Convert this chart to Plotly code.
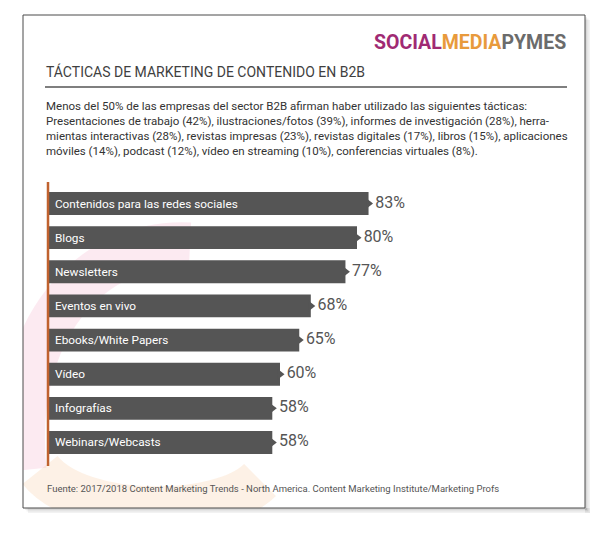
import plotly.graph_objects as go

categories = ["Contenidos para las redes sociales", "Blogs", "Newsletters", "Eventos en vivo",
              "Ebooks/White Papers", "Vídeo", "Infografías", "Webinars/Webcasts"]
values = [83, 80, 77, 68, 65, 60, 58, 58]
value_labels = ["83%", "80%", "77%", "68%", "65%", "60%", "58%", "58%"]

W, H = 610, 542
def px(x):
    return x / W
def py(y):
    return 1 - y / H

COND = "Roboto, Liberation Sans, sans-serif"
BAR = "#555555"

fig = go.Figure()
fig.add_trace(go.Bar(
    y=categories, x=values, orientation="h",
    marker=dict(color=BAR, line=dict(width=0)),
    text=categories, texttemplate="\u00a0%{text}", textposition="inside", insidetextanchor="start",
    textfont=dict(color="white", size=11.8, family=COND),
    hoverinfo="skip", cliponaxis=False,
))
fig.add_trace(go.Scatter(
    y=categories, x=values, mode="markers+text",
    marker=dict(symbol="triangle-right", size=9, color=BAR),
    text=value_labels, textposition="middle right",
    textfont=dict(color="#555555", size=16, family=COND),
    hoverinfo="skip", cliponaxis=False,
))

shapes = []
# soft shadow
for i, a in enumerate([0.05, 0.05, 0.06]):
    d = 5 - i * 1.5
    shapes.append(dict(type="rect", xref="paper", yref="paper", x0=px(23 + d), x1=px(585 + d), y0=py(508 + d), y1=py(15 + d),
                       fillcolor=f"rgba(0,0,0,{a})", line=dict(width=0), layer="below"))
# card
shapes.append(dict(type="rect", xref="paper", yref="paper", x0=px(23), x1=px(585), y0=py(508), y1=py(15),
                   fillcolor="white", line=dict(width=0), layer="below"))
# decorative ring (left/top pinkish, bottom peach)
shapes.append(dict(type="path", xref="paper", yref="paper", layer="below",
                   path=f"M {px(24)},{py(470)} C {px(10)},{py(330)} {px(90)},{py(240)} {px(190)},{py(245)}",
                   line=dict(color="rgba(238,150,185,0.20)", width=45)))
shapes.append(dict(type="path", xref="paper", yref="paper", layer="below",
                   path=f"M {px(40)},{py(470)} C {px(80)},{py(520)} {px(220)},{py(520)} {px(260)},{py(480)}",
                   line=dict(color="rgba(245,190,140,0.22)", width=45)))
# cover outside the card
shapes.append(dict(type="rect", xref="paper", yref="paper", x0=0, x1=px(23), y0=0, y1=1,
                   fillcolor="white", line=dict(width=0), layer="below"))
shapes.append(dict(type="rect", xref="paper", yref="paper", x0=px(23), x1=px(585), y0=py(542), y1=py(508),
                   fillcolor="white", line=dict(width=0), layer="below"))
for i, a in enumerate([0.05, 0.05, 0.06]):
    d = 5 - i * 1.5
    shapes.append(dict(type="rect", xref="paper", yref="paper", x0=px(23 + d), x1=px(585 + d), y0=py(508 + d), y1=py(508),
                       fillcolor=f"rgba(0,0,0,{a})", line=dict(width=0), layer="below"))
shapes.append(dict(type="rect", xref="paper", yref="paper", x0=px(23), x1=px(585), y0=py(508), y1=py(15),
                   fillcolor="rgba(0,0,0,0)", line=dict(color="#4a4a4a", width=1), layer="below"))
# title underline
shapes.append(dict(type="line", xref="paper", yref="paper", x0=px(45), x1=px(567), y0=py(87), y1=py(87),
                   line=dict(color="#555555", width=1.5)))
# orange vertical axis line
shapes.append(dict(type="line", xref="paper", yref="paper", x0=px(48), x1=px(48), y0=py(182), y1=py(466),
                   line=dict(color="#c0622f", width=2.5)))

annotations = [
    dict(text="<b><span style='color:#a02a73'>SOCIAL</span><span style='color:#e89a3c'>MEDIA</span>"
              "<span style='color:#6b6b6b'>PYMES</span></b>",
         x=px(568), y=py(42), xref="paper", yref="paper", xanchor="right", yanchor="middle",
         showarrow=False, font=dict(size=19.5, family=COND)),
    dict(text="TÁCTICAS DE MARKETING DE CONTENIDO EN B2B",
         x=px(44), y=py(71), xref="paper", yref="paper", xanchor="left", yanchor="middle",
         showarrow=False, font=dict(size=14, color="#3f3f3f", family=COND)),
    dict(text="Menos del 50% de las empresas del sector B2B afirman haber utilizado las siguientes tácticas:<br>"
              "Presentaciones de trabajo (42%), ilustraciones/fotos (39%), informes de investigación (28%), herra-<br>"
              "mientas interactivas (28%), revistas impresas (23%), revistas digitales (17%), libros (15%), aplicaciones<br>"
              "móviles (14%), podcast (12%), vídeo en streaming (10%), conferencias virtuales (8%).",
         x=px(44), y=py(97), xref="paper", yref="paper", xanchor="left", yanchor="top", align="left",
         showarrow=False, font=dict(size=11.5, color="#333333", family=COND)),
    dict(text="Fuente: 2017/2018 Content Marketing Trends - North America. Content Marketing Institute/Marketing Profs",
         x=px(45), y=py(488), xref="paper", yref="paper", xanchor="left", yanchor="middle",
         showarrow=False, font=dict(size=9.5, color="#555555", family=COND)),
]

fig.update_layout(
    width=W, height=H, margin=dict(l=0, r=0, t=0, b=0),
    paper_bgcolor="white", plot_bgcolor="rgba(0,0,0,0)",
    showlegend=False, bargap=0.33,
    xaxis=dict(domain=[px(49), px(434)], range=[0, 100], visible=False, fixedrange=True),
    yaxis=dict(domain=[py(462), py(184)], categoryorder="array", categoryarray=categories,
               autorange="reversed", visible=False, fixedrange=True),
    shapes=shapes, annotations=annotations,
)

fig.write_html("out.html")
